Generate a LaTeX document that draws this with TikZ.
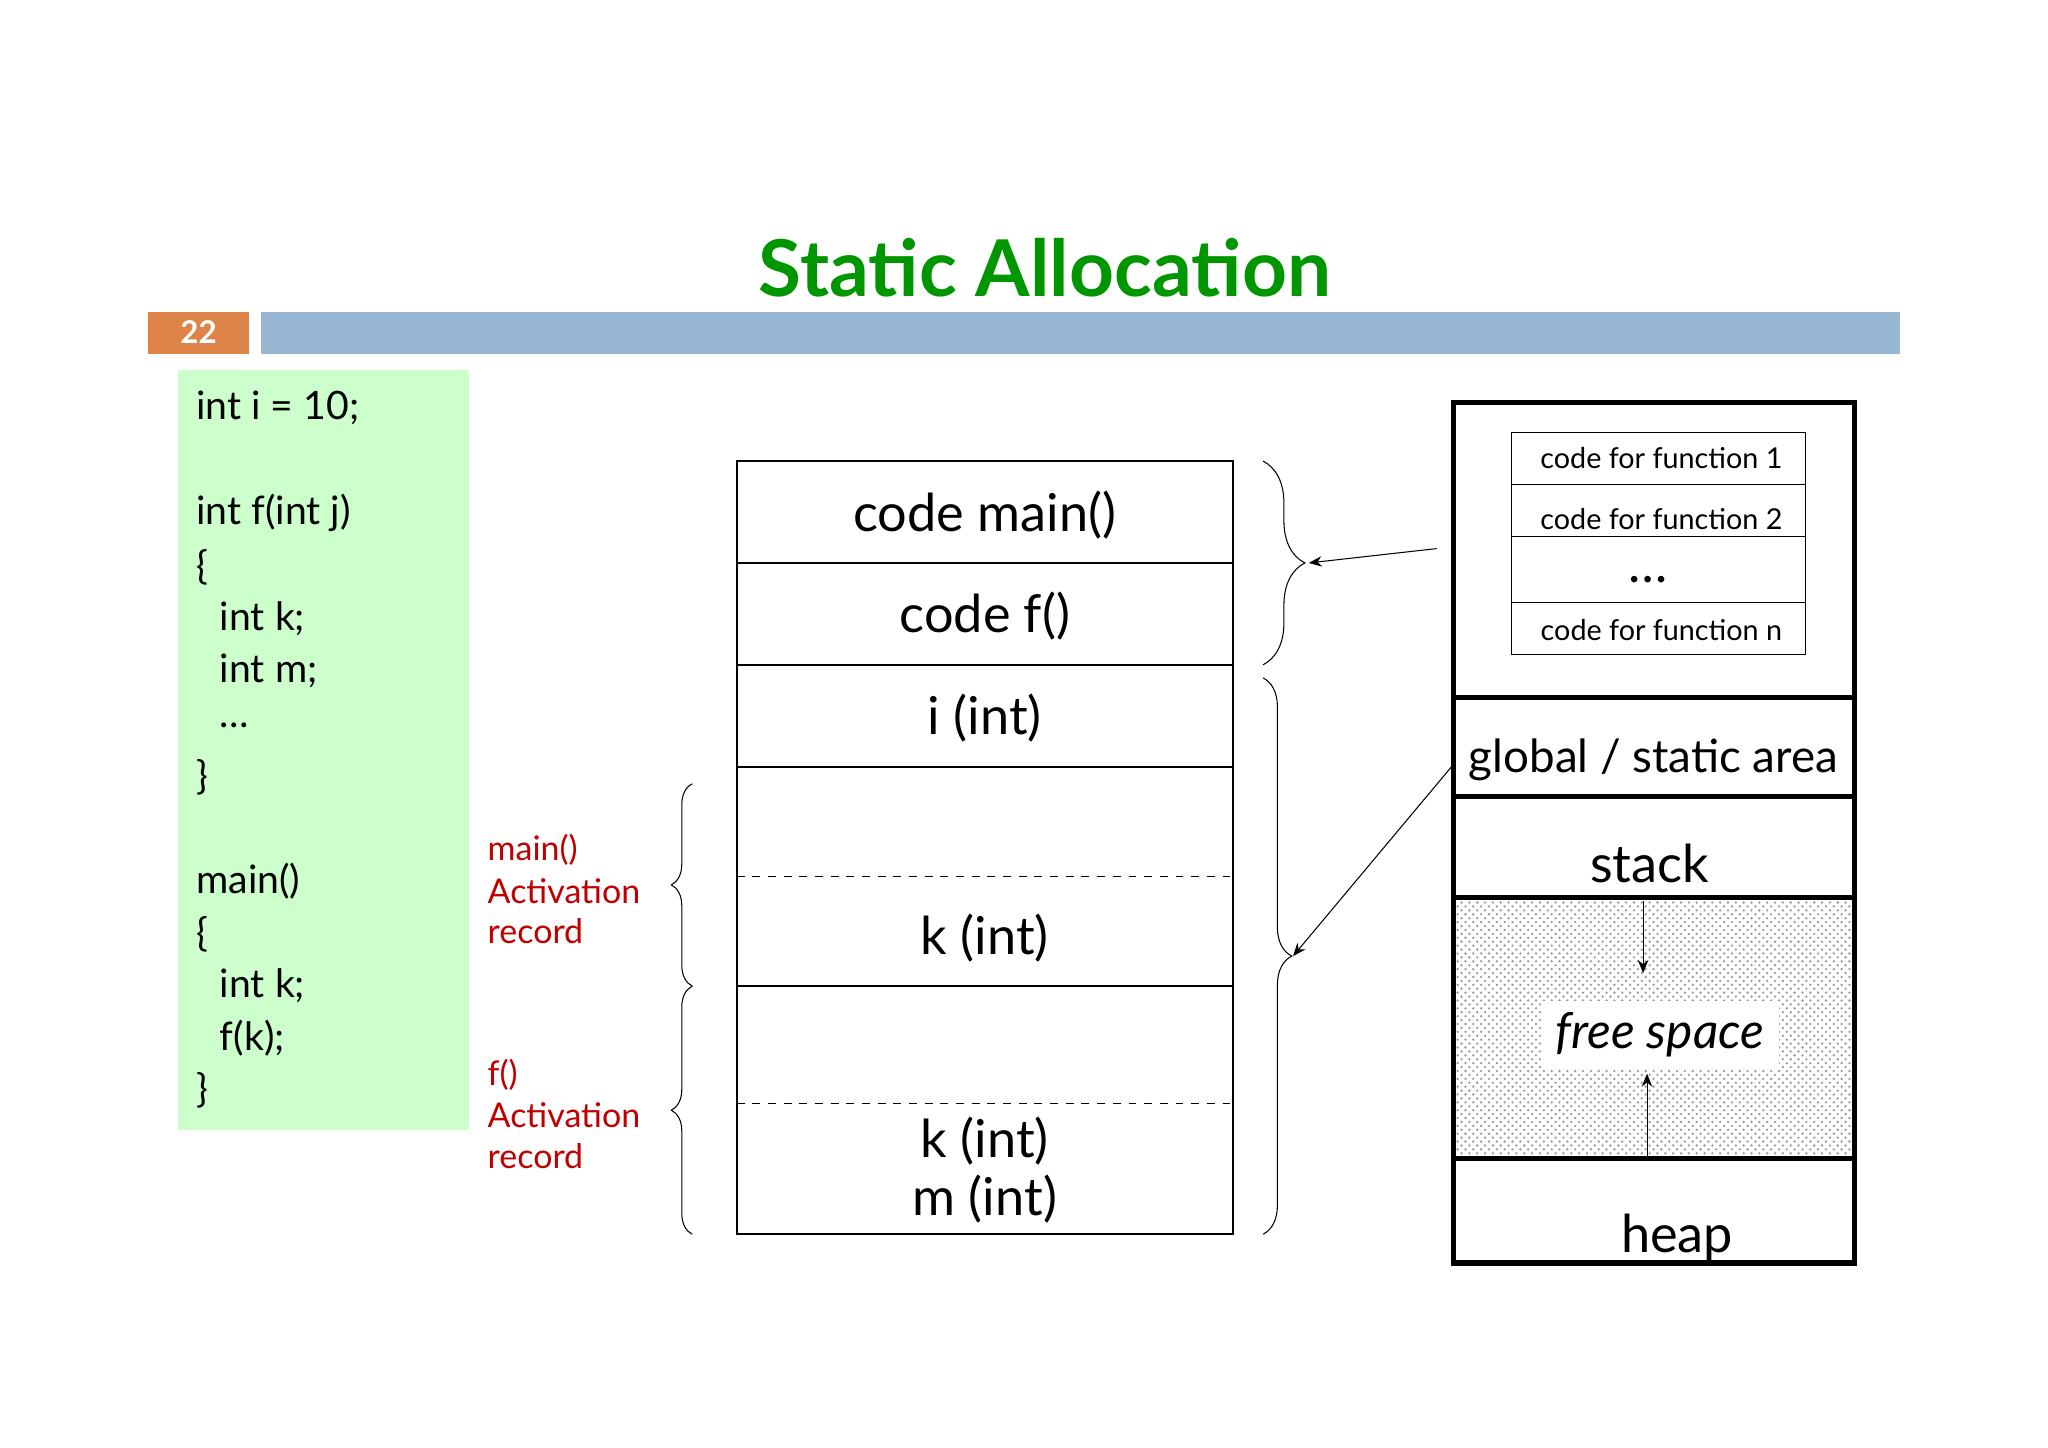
\documentclass[tikz,border=0pt]{standalone}
\usepackage{fontspec}
\setmainfont{Lato}
\usetikzlibrary{decorations.pathreplacing,patterns,arrows.meta}
\definecolor{tgreen}{RGB}{0,150,0}
\definecolor{bar}{RGB}{150,182,210}
\definecolor{org}{RGB}{222,132,72}
\definecolor{codebg}{RGB}{204,255,204}
\definecolor{dred}{RGB}{192,0,0}
\begin{document}
\begin{tikzpicture}[x=0.5pt,y=-0.5pt,
 code/.style={anchor=west,inner sep=0,font=\fontsize{15}{17}\selectfont},
 big/.style={font=\fontsize{20}{22}\selectfont,inner sep=0},
 small/.style={font=\fontsize{11}{13}\selectfont,inner sep=0},
 red/.style={anchor=west,inner sep=0,text=dred,font=\fontsize{13}{15}\selectfont},
 br/.style={decorate,decoration={brace,amplitude=#1}},
 ar/.style={-{Stealth[length=5pt,width=4pt]}}]
\useasboundingbox (0,0) rectangle (1568,1108);
\node[text=tgreen,font=\fontsize{30}{32}\selectfont\bfseries] (title) at (800,205) {Static Allocation};
\fill[org] (113,239) rectangle (191,271);
\node[text=white,font=\fontsize{12}{14}\selectfont\bfseries] (num) at (152,254) {22};
\fill[bar] (200,239) rectangle (1455,271);
\fill[codebg] (136,283) rectangle (359,865);
\node[code] (c1) at (150,312) {int i = 10;};
\node[code] (c2) at (150,393) {int f(int j)};
\node[code] (c3) at (150,434) {\{};
\node[code] (c4) at (168,474) {int k;};
\node[code] (c5) at (168,514) {int m;};
\node[code] (c6) at (168,555) {\dots};
\node[code] (c7) at (150,595) {\}};
\node[code] (c8) at (150,675) {main()};
\node[code] (c9) at (150,715) {\{};
\node[code] (c10) at (168,755) {int k;};
\node[code] (c11) at (168,795) {f(k);};
\node[code] (c12) at (150,835) {\}};
% middle column
\draw[thick] (564,353) rectangle (944,945);
\foreach \y in {431,509,587,755} \draw[thick] (564,\y) -- (944,\y);
\draw[dashed] (564,671) -- (944,671);
\draw[dashed] (564,845) -- (944,845);
\node[big] (m1) at (754,394) {code main()};
\node[big] (m2) at (754,472) {code f()};
\node[big] (m3) at (754,550) {i (int)};
\node[big] (m4) at (754,718) {k (int)};
\node[big,align=center] (m5) at (754,896) {k (int)\\m (int)};
% braces
\draw[br=16pt] (967,353) -- (967,509);
\draw[br=11pt] (967,519) -- (967,945);
\coordinate (b1t) at (1002,431);
\coordinate (b2t) at (990,732);
\draw[br=8pt] (530,755) -- (530,600);
\draw[br=8pt] (530,945) -- (530,755);
\node[red] (r1) at (373,651) {main()};
\node[red] (r2) at (373,682) {Activation};
\node[red] (r3) at (373,713) {record};
\node[red] (r4) at (373,823) {f()};
\node[red] (r5) at (373,854) {Activation};
\node[red] (r6) at (373,885) {record};
% right
\fill[pattern=crosshatch dots,pattern color=gray!80] (1113,687) rectangle (1420,887);
\draw[line width=2pt] (1113,308) rectangle (1420,967);
\foreach \y in {534,610,687,887} \draw[line width=2pt] (1113,\y) -- (1420,\y);
\draw (1157,331) rectangle (1382,501);
\foreach \y in {371,411,461} \draw (1157,\y) -- (1382,\y);
\node[small] (f1) at (1272,351) {code for function 1};
\node[small] (f2) at (1272,397) {code for function 2};
\node[big] (f3) at (1262,444) {\dots};
\node[small] (f4) at (1272,482) {code for function n};
\node[font=\fontsize{17.5}{20}\selectfont,inner sep=0] (g) at (1266,582) {global / static area};
\node[big] (st) at (1263,661) {stack};
\node[big] (hp) at (1284,948) {heap};
\coordinate (a1) at (1258,690); \coordinate (a1e) at (1258,745);
\coordinate (a2) at (1261,887); \coordinate (a2e) at (1261,822);
\draw[ar] (a1) -- (a1e);
\draw[ar] (a2) -- (a2e);
\node[fill=white,minimum width=91pt,minimum height=26pt,inner sep=0,font=\fontsize{19}{22}\selectfont\itshape] (fs) at (1271,792) {free space};
\coordinate (s1) at (1100,420);
\coordinate (s2) at (1113,585);
\draw[ar] (s1) -- (b1t);
\draw[ar] (s2) -- (b2t);
\end{tikzpicture}
\end{document}
